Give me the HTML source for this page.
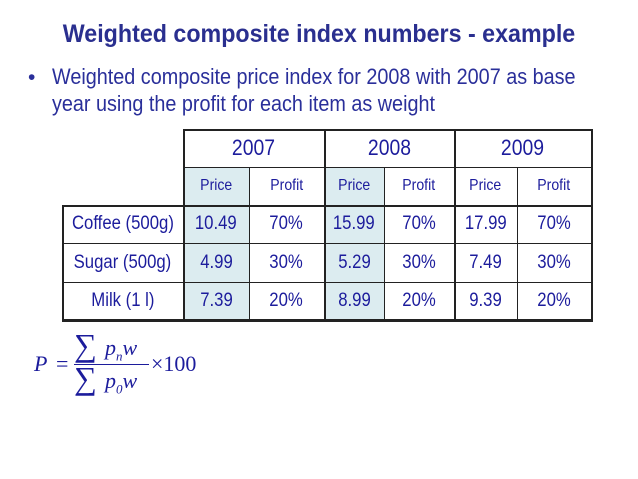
<!DOCTYPE html>
<html><head><meta charset="utf-8"><style>
body{margin:0;width:638px;height:479px;background:#fff;position:relative;overflow:hidden;font-family:"Liberation Sans",Arial,sans-serif;color:#1c1c9c}
.a{position:absolute}
.c{position:absolute;display:flex;align-items:center;justify-content:center;box-sizing:border-box}
.c span{display:inline-block;transform:scaleX(0.88)}
.ln{position:absolute;background:#222}
</style></head><body>
<div class="a" style="left:0;width:638px;top:20px;text-align:center;font-size:25px;font-weight:bold;color:#2a2f8f;transform:scaleX(0.93)">Weighted composite index numbers - example</div>
<div class="a" style="left:28px;top:64px;font-size:21px;line-height:27px;color:#2a2f9a">•</div>
<div class="a" style="left:52px;top:63px;font-size:22px;line-height:27px;color:#2a2f9a;transform:scaleX(0.9);transform-origin:left;white-space:nowrap">Weighted composite price index for 2008 with 2007 as base<br>year using the profit for each item as weight</div>
<div id="tbl"></div>
<div class="a" style="left:34px;top:333px;font-family:'Liberation Serif',serif;font-size:22px;color:#1c1c9c">
<span class="a" style="left:0;top:18px;font-style:italic">P</span>
<span class="a" style="left:22px;top:18px">=</span>
<span class="a" style="left:40px;top:-6px;font-size:32px">∑</span>
<span class="a" style="left:71px;top:2px;font-style:italic">p<sub style="font-size:13px">n</sub>w</span>
<span class="a" style="left:40px;top:31px;width:75px;height:1px;background:#1c1c9c"></span>
<span class="a" style="left:40px;top:27px;font-size:32px">∑</span>
<span class="a" style="left:71px;top:35px;font-style:italic">p<sub style="font-size:13px">0</sub>w</span>
<span class="a" style="left:117px;top:18px">×100</span>
</div>
<script>
const xs=[62,183,249,324,384,454,517,591];
const ys=[129,167,205,243,282,319];
const years=["2007","2008","2009"];
const items=["Coffee (500g)","Sugar (500g)","Milk (1 l)"];
const prices=[["10.49","15.99","17.99"],["4.99","5.29","7.49"],["7.39","8.99","9.39"]];
const profits=[["70%","70%","70%"],["30%","30%","30%"],["20%","20%","20%"]];
const t=document.getElementById('tbl');
function cell(x1,x2,y1,y2,txt,fs,bg,name){const d=document.createElement('div');d.className='c';


d.style.cssText=`left:${x1}px;top:${y1}px;width:${x2-x1}px;height:${y2-y1}px;font-size:${fs}px;background:${bg||'transparent'}`;const s=document.createElement('span');s.textContent=txt;d.appendChild(s);t.appendChild(d);}
function line(x,y,w,h){const d=document.createElement('div');d.className='ln';


d.style.cssText=`left:${x}px;top:${y}px;width:${w}px;height:${h}px`;t.appendChild(d);}
const blue='#dcecf0';
for(let i=0;i<3;i++){
 cell(xs[1+2*i],xs[3+2*i],ys[0],ys[1],years[i],22,null,'year-header');
 cell(xs[1+2*i],xs[2+2*i],ys[1],ys[2],'Price',16,i<2?blue:null,'price-header');
 cell(xs[2+2*i],xs[3+2*i],ys[1],ys[2],'Profit',16,null,'profit-header');
 for(let r=0;r<3;r++){
  cell(xs[1+2*i],xs[2+2*i],ys[2+r],ys[3+r],prices[r][i],19,i<2?blue:null,'price-cell');
  cell(xs[2+2*i],xs[3+2*i],ys[2+r],ys[3+r],profits[r][i],19,null,'profit-cell');
 }
}
for(let r=0;r<3;r++)cell(xs[0],xs[1],ys[2+r],ys[3+r],items[r],19,null,'item-label');
line(xs[1],ys[0],xs[7]-xs[1],2);
line(xs[1],ys[1],xs[7]-xs[1],1);
line(xs[0],ys[2],xs[7]-xs[0],2);
line(xs[0],ys[3],xs[7]-xs[0],1);
line(xs[0],ys[4],xs[7]-xs[0],1);
line(xs[0],ys[5],xs[7]-xs[0]+1,3);
line(xs[0],ys[2],2,ys[5]-ys[2]);
[1,3,5].forEach(i=>line(xs[i],ys[0],2,ys[5]-ys[0]));
line(xs[7],ys[0],2,ys[5]-ys[0]+3);
[2,4,6].forEach(i=>line(xs[i],ys[1],1,ys[5]-ys[1]));
</script>
</body></html>
